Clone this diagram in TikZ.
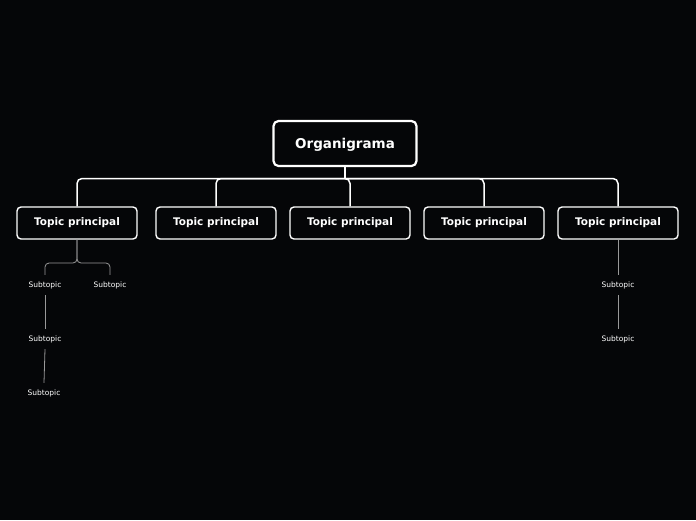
\documentclass[tikz,border=0pt]{standalone}
\usepackage{fontspec}
\setmainfont{DejaVu Sans}
\begin{document}
\begin{tikzpicture}[x=1pt,y=-1pt,
  root/.style={draw=white,line width=2.2pt,rounded corners=5pt,minimum width=143pt,minimum height=45pt,text=white,font=\bfseries\fontsize{13.5}{15}\selectfont,inner sep=0pt,text depth=0pt,yshift=-1pt},
  topic/.style={draw=white,line width=1.4pt,rounded corners=4pt,minimum width=120pt,minimum height=32pt,text=white,font=\bfseries\fontsize{10.5}{12}\selectfont,inner sep=0pt},
  sub/.style={text=white,font=\fontsize{7.5}{9}\selectfont,inner sep=2pt,minimum height=20pt},
  conn/.style={draw=white,line width=1.5pt,rounded corners=5pt},
  sconn/.style={draw=gray!80,line width=0.8pt,rounded corners=4pt}]
\fill[fill={rgb,255:red,5;green,6;blue,8}] (0,0) rectangle (696,520);
\useasboundingbox (0,0) rectangle (696,520);
\node[root] (r) at (345,142.5) {Organigrama};
\node[topic] (t1) at (77,223) {Topic principal};
\node[topic] (t2) at (216,223) {Topic principal};
\node[topic] (t3) at (350,223) {Topic principal};
\node[topic] (t4) at (484,223) {Topic principal};
\node[topic] (t5) at (618,223) {Topic principal};
\coordinate (j) at (345,178.5);
\draw[draw=white,line width=1.5pt] (r.south) -- (j);
\foreach \t in {t1,t2,t3,t4,t5}
  \draw[conn] (j) -| (\t.north);
\node[sub] (s1) at (45,285) {Subtopic};
\node[sub] (s2) at (110,285) {Subtopic};
\node[sub] (s3) at (45,339) {Subtopic};
\node[sub] (s4) at (44,393) {Subtopic};
\node[sub] (s5) at (618,285) {Subtopic};
\node[sub] (s6) at (618,339) {Subtopic};
\draw[sconn] (t1.south) -- (77,263) -| (s1.north);
\draw[sconn] (t1.south) -- (77,263) -| (s2.north);
\draw[sconn] (s1.south) -- (s3.north);
\draw[sconn] (s3.south) -- (s4.north);
\draw[sconn] (t5.south) -- (s5.north);
\draw[sconn] (s5.south) -- (s6.north);
\end{tikzpicture}
\end{document}
